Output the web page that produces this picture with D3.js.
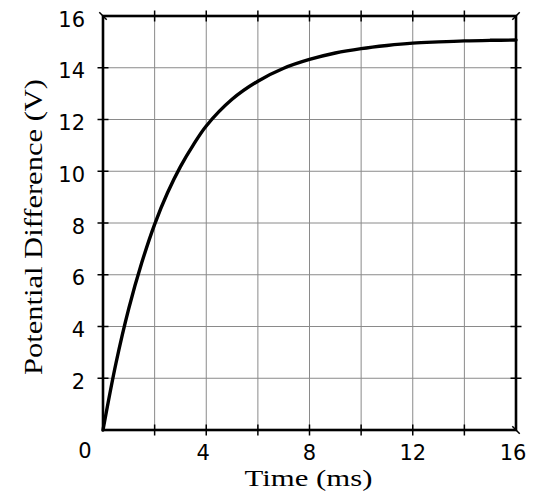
<!DOCTYPE html>
<html>
<head>
<meta charset="utf-8">
<script src="https://cdn.jsdelivr.net/npm/d3@7"></script>
<style>
  html, body { margin: 0; padding: 0; background: #fff; }
  svg { display: block; }
</style>
</head>
<body>
<div id="chart"></div>
<script>
// ---- data ----
const times = [0, 0.5, 1, 1.5, 2, 2.5, 3, 3.5, 4, 5, 6, 7, 8, 9, 10, 11, 12, 13, 14, 15, 16];
const volts = [0, 2.57, 4.7, 6.46, 7.95, 9.17, 10.18, 11.02, 11.75, 12.78, 13.48, 13.98, 14.32, 14.57, 14.74, 14.86, 14.95, 15.0, 15.04, 15.06, 15.07];
const gridValues = [2, 4, 6, 8, 10, 12, 14];
const xTickLabels = [4, 8, 12, 16];
const yTickLabels = [2, 4, 6, 8, 10, 12, 14, 16];
const xTitle = "Time (ms)";
const yTitle = "Potential Difference (V)";

// ---- layout ----
const W = 550, H = 500;
const plotLeft = 103, plotRight = 516, plotTop = 16, plotBottom = 430;

const x = d3.scaleLinear().domain([0, 16]).range([plotLeft, plotRight]);
const y = d3.scaleLinear().domain([0, 16]).range([plotBottom, plotTop]);

const svg = d3.select("#chart").append("svg")
  .attr("width", W).attr("height", H);

// grid
const grid = svg.append("g").attr("stroke", "#8a8a8a").attr("stroke-width", 1);
grid.selectAll("line.gx").data(gridValues).join("line")
  .attr("x1", d => x(d)).attr("x2", d => x(d))
  .attr("y1", y(0)).attr("y2", y(16));
grid.selectAll("line.gy").data(gridValues).join("line")
  .attr("y1", d => y(d)).attr("y2", d => y(d))
  .attr("x1", x(0)).attr("x2", x(16));

// ticks crossing each side
const tk = svg.append("g").attr("stroke", "#000").attr("stroke-width", 1.5);
const tl = 5.5;
gridValues.forEach(v => {
  tk.append("line").attr("x1", x(v)).attr("x2", x(v)).attr("y1", y(0) - tl).attr("y2", y(0) + tl);
  tk.append("line").attr("x1", x(v)).attr("x2", x(v)).attr("y1", y(16) - tl).attr("y2", y(16) + tl);
  tk.append("line").attr("y1", y(v)).attr("y2", y(v)).attr("x1", x(0) - tl).attr("x2", x(0) + tl);
  tk.append("line").attr("y1", y(v)).attr("y2", y(v)).attr("x1", x(16) - tl).attr("x2", x(16) + tl);
});
// corner marks
const c = 3.7;
tk.append("line").attr("x1", x(0) - c).attr("y1", y(16) - c).attr("x2", x(0) + c).attr("y2", y(16) + c);
tk.append("line").attr("x1", x(16) - c).attr("y1", y(16) + c).attr("x2", x(16) + c).attr("y2", y(16) - c);
tk.append("line").attr("x1", x(16) - c).attr("y1", y(0) - c).attr("x2", x(16) + c).attr("y2", y(0) + c);

// frame
svg.append("rect")
  .attr("x", x(0)).attr("y", y(16))
  .attr("width", x(16) - x(0)).attr("height", y(0) - y(16))
  .attr("fill", "none").attr("stroke", "#000").attr("stroke-width", 2.6);

// curve
const pts = times.map((t, i) => [t, volts[i]]);
svg.append("path")
  .datum(pts)
  .attr("fill", "none").attr("stroke", "#000").attr("stroke-width", 3.4)
  .attr("stroke-linecap", "round")
  .attr("d", d3.line().x(d => x(d[0])).y(d => y(d[1])).curve(d3.curveCatmullRom.alpha(0.5)));

// tick labels
const lab = svg.append("g")
  .attr("font-family", "DejaVu Sans, sans-serif")
  .attr("font-size", 21).attr("fill", "#000");
lab.selectAll("text.xl").data(xTickLabels).join("text")
  .attr("x", d => x(d) - (d === 16 || d === 4 ? 3 : 0))
  .attr("y", 459.5).attr("text-anchor", "middle").text(d => d);
lab.append("text").attr("x", x(0) - 18).attr("y", 458)
  .attr("text-anchor", "middle").text("0");
lab.selectAll("text.yl").data(yTickLabels).join("text")
  .attr("x", x(0) - 18).attr("y", d => y(d) + 10.7)
  .attr("text-anchor", "end").text(d => d);

// axis titles
svg.append("text")
  .attr("x", (x(0) + x(16)) / 2 - 1).attr("y", 486)
  .attr("text-anchor", "middle")
  .attr("font-family", "Liberation Serif, serif").attr("font-size", 23)
  .attr("textLength", 128).attr("lengthAdjust", "spacingAndGlyphs")
  .text(xTitle);
svg.append("text")
  .attr("transform", `translate(42, ${(y(0) + y(16)) / 2 + 4}) rotate(-90)`)
  .attr("text-anchor", "middle")
  .attr("font-family", "Liberation Serif, serif").attr("font-size", 25)
  .attr("textLength", 296).attr("lengthAdjust", "spacingAndGlyphs")
  .text(yTitle);
</script>
</body>
</html>
